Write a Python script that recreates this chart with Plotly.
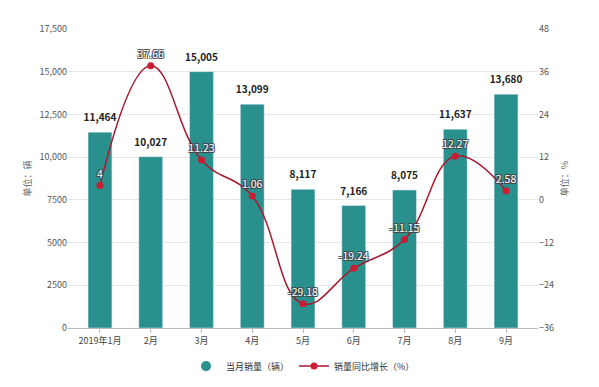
import plotly.graph_objects as go

categories = ["2019年1月", "2月", "3月", "4月", "5月", "6月", "7月", "8月", "9月"]
sales = [11464, 10027, 15005, 13099, 8117, 7166, 8075, 11637, 13680]
growth = [4, 37.66, 11.23, 1.06, -29.18, -19.24, -11.15, 12.27, 2.58]
left_ticks = [0, 2500, 5000, 7500, 10000, 12500, 15000, 17500]
left_ticktext = ["0", "2500", "5000", "7500", "10,000", "12,500", "15,000", "17,500"]
right_ticks = [-36, -24, -12, 0, 12, 24, 36, 48]

font = "Noto Sans CJK SC, Noto Sans, sans-serif"
teal = "#2a908d"
red = "#c81d33"
halo = "1px 1px 0.5px #444, -1px -1px 0.5px #444, 1px -1px 0.5px #444, -1px 1px 0.5px #444"

fig = go.Figure()
fig.add_trace(go.Bar(
    x=categories, y=sales, name="当月销量（辆）", showlegend=False,
    marker=dict(color=teal), width=0.47,
))
# bar value labels
fig.add_trace(go.Scatter(
    x=categories, y=sales, mode="markers+text", showlegend=False, hoverinfo="skip",
    marker=dict(size=12, opacity=0),
    text=[f"{v:,}" for v in sales], textposition="top center",
    textfont=dict(size=10, color="#222", family=font, weight="bold"),
    cliponaxis=False,
))
# legend stand-in for bars (circle marker)
fig.add_trace(go.Scatter(
    x=[None], y=[None], mode="markers", name="当月销量（辆）",
    marker=dict(color=teal, size=10, symbol="circle"),
))
fig.add_trace(go.Scatter(
    x=categories, y=growth, name="销量同比增长（%）", yaxis="y2",
    mode="lines+markers+text",
    line=dict(color="#a8182f", width=1.5, shape="spline", smoothing=1.2),
    marker=dict(color=red, size=7),
    text=[f"{v:g}" for v in growth], textposition="top center",
    textfont=dict(size=10.5, color="#ffffff", family=font, shadow=halo),
    cliponaxis=False,
))

fig.update_layout(
    width=599, height=387,
    margin=dict(l=68, r=61, t=29, b=59, autoexpand=False),
    paper_bgcolor="white", plot_bgcolor="white",
    font=dict(family=font, size=9, color="#555"),
    bargap=0.5,
    xaxis=dict(range=[-0.63, 8.63], showline=True, linecolor="#bbb", ticks="outside", ticklen=4,
               tickcolor="#bbb", tickfont=dict(size=9, color="#444"), automargin=False),
    yaxis=dict(range=[0, 17500], tickvals=left_ticks, ticktext=left_ticktext,
               showgrid=True, gridcolor="#e6e6e6", zeroline=False, automargin=False,
               tickfont=dict(size=9, color="#555"),
               title=dict(text="单位：辆", font=dict(size=9, color="#666"), standoff=6)),
    yaxis2=dict(range=[-36, 48], tickvals=right_ticks, overlaying="y", side="right",
                showgrid=False, zeroline=False, automargin=False,
                tickfont=dict(size=9, color="#555"),
                title=dict(text="单位：%", font=dict(size=9, color="#666"), standoff=8)),
    legend=dict(orientation="h", x=0.5, xanchor="center", yref="container", y=0.054,
                yanchor="middle", font=dict(size=9, color="#333"), itemwidth=30),
)

fig.write_html("out.html", config={"displayModeBar": False},
               post_script="document.body.style.margin='0';")
